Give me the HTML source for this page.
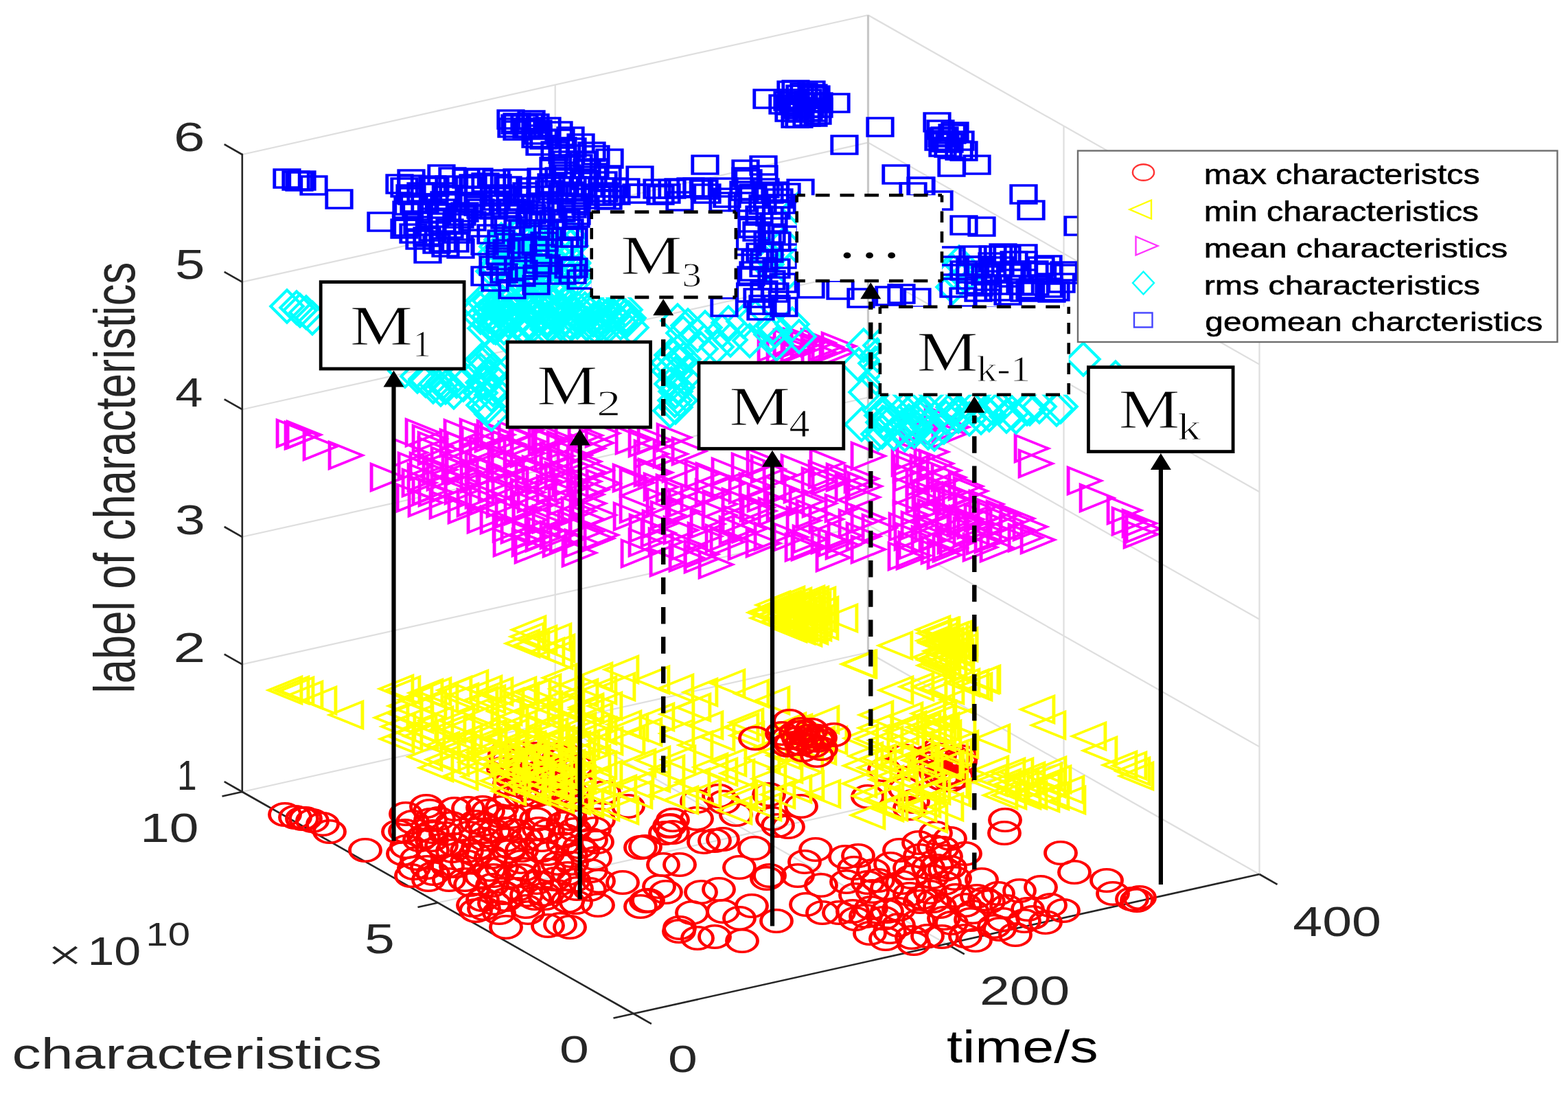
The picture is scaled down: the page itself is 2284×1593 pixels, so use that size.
<!DOCTYPE html>
<html><head><meta charset="utf-8"><title>figure</title>
<style>html,body{margin:0;padding:0;background:#fff;} svg{display:block;}</style></head>
<body>
<svg xmlns="http://www.w3.org/2000/svg" width="2284" height="1593" viewBox="0 0 2284 1593">
<rect width="100%" height="100%" fill="#fff"/>
<line x1="352.8" y1="1153" x2="1264.5" y2="950" stroke="#dedede" stroke-width="2.2" />
<line x1="352.8" y1="967.4" x2="1264.5" y2="764.4" stroke="#dedede" stroke-width="2.2" />
<line x1="352.8" y1="781.8" x2="1264.5" y2="578.8" stroke="#dedede" stroke-width="2.2" />
<line x1="352.8" y1="596.2" x2="1264.5" y2="393.2" stroke="#dedede" stroke-width="2.2" />
<line x1="352.8" y1="410.6" x2="1264.5" y2="207.6" stroke="#dedede" stroke-width="2.2" />
<line x1="352.8" y1="225" x2="1264.5" y2="22" stroke="#dedede" stroke-width="2.2" />
<line x1="808.7" y1="1051.5" x2="808.7" y2="123.5" stroke="#dedede" stroke-width="2.2" />
<line x1="1264.5" y1="950" x2="1834.5" y2="1273" stroke="#dedede" stroke-width="2.2" />
<line x1="1264.5" y1="764.4" x2="1834.5" y2="1087.4" stroke="#dedede" stroke-width="2.2" />
<line x1="1264.5" y1="578.8" x2="1834.5" y2="901.8" stroke="#dedede" stroke-width="2.2" />
<line x1="1264.5" y1="393.2" x2="1834.5" y2="716.2" stroke="#dedede" stroke-width="2.2" />
<line x1="1264.5" y1="207.6" x2="1834.5" y2="530.6" stroke="#dedede" stroke-width="2.2" />
<line x1="1264.5" y1="22" x2="1834.5" y2="345" stroke="#dedede" stroke-width="2.2" />
<line x1="1549.5" y1="1111.5" x2="1549.5" y2="183.5" stroke="#dedede" stroke-width="2.2" />
<line x1="1834.5" y1="1273" x2="1834.5" y2="345" stroke="#dedede" stroke-width="2.2" />
<line x1="1264.5" y1="950" x2="1264.5" y2="22" stroke="#c8c8c8" stroke-width="3.2" />
<line x1="1378.7" y1="1374.5" x2="808.7" y2="1051.5" stroke="#dedede" stroke-width="2.2" />
<line x1="637.8" y1="1314.5" x2="1549.5" y2="1111.5" stroke="#dedede" stroke-width="2.2" />
<line x1="352.8" y1="1153" x2="352.8" y2="225" stroke="#262626" stroke-width="2.6" stroke-linecap="square"/>
<line x1="352.8" y1="1153" x2="922.8" y2="1476" stroke="#262626" stroke-width="2.6" />
<line x1="922.8" y1="1476" x2="1834.5" y2="1273" stroke="#262626" stroke-width="2.6" />
<line x1="352.8" y1="1153" x2="326.7" y2="1138.2" stroke="#262626" stroke-width="2.6" />
<line x1="352.8" y1="967.4" x2="326.7" y2="952.6" stroke="#262626" stroke-width="2.6" />
<line x1="352.8" y1="781.8" x2="326.7" y2="767" stroke="#262626" stroke-width="2.6" />
<line x1="352.8" y1="596.2" x2="326.7" y2="581.4" stroke="#262626" stroke-width="2.6" />
<line x1="352.8" y1="410.6" x2="326.7" y2="395.8" stroke="#262626" stroke-width="2.6" />
<line x1="352.8" y1="225" x2="326.7" y2="210.2" stroke="#262626" stroke-width="2.6" />
<line x1="922.8" y1="1476" x2="893.5" y2="1482.5" stroke="#262626" stroke-width="2.6" />
<line x1="637.8" y1="1314.5" x2="608.5" y2="1321" stroke="#262626" stroke-width="2.6" />
<line x1="352.8" y1="1153" x2="323.5" y2="1159.5" stroke="#262626" stroke-width="2.6" />
<line x1="922.8" y1="1476" x2="948.9" y2="1490.8" stroke="#262626" stroke-width="2.6" />
<line x1="1378.7" y1="1374.5" x2="1404.8" y2="1389.3" stroke="#262626" stroke-width="2.6" />
<line x1="1834.5" y1="1273" x2="1860.6" y2="1287.8" stroke="#262626" stroke-width="2.6" />
<defs>
<circle id="mo" r="16.2" transform="scale(1.39 1)"/>
<rect id="ms" x="-13.1" y="-13.0" width="26.2" height="26" transform="scale(1.39 1)"/>
<path id="md" d="M-17 0L0 -23.5L17 0L0 23.5Z" transform="scale(1.39 1)"/>
<path id="mr" d="M-17.2 -19.3L17.2 0L-17.2 19.3Z" transform="scale(1.39 1)"/>
<path id="ml" d="M17.2 -19.3L-17.2 0L17.2 19.3Z" transform="scale(1.39 1)"/>
</defs>
<g fill="none" stroke="#ff0000" stroke-width="3.5">
<use href="#mo" x="415" y="1186"/>
<use href="#mo" x="430" y="1190"/>
<use href="#mo" x="440" y="1192"/>
<use href="#mo" x="445" y="1192"/>
<use href="#mo" x="455" y="1195"/>
<use href="#mo" x="470" y="1200"/>
<use href="#mo" x="480" y="1211"/>
<use href="#mo" x="532" y="1238"/>
<use href="#mo" x="591" y="1185"/>
<use href="#mo" x="621" y="1174"/>
<use href="#mo" x="626" y="1181"/>
<use href="#mo" x="662" y="1178"/>
<use href="#mo" x="682" y="1177"/>
<use href="#mo" x="703" y="1176"/>
<use href="#mo" x="711" y="1181"/>
<use href="#mo" x="731" y="1176"/>
<use href="#mo" x="601" y="1197"/>
<use href="#mo" x="627" y="1194"/>
<use href="#mo" x="639" y="1192"/>
<use href="#mo" x="658" y="1199"/>
<use href="#mo" x="693" y="1197"/>
<use href="#mo" x="705" y="1200"/>
<use href="#mo" x="728" y="1188"/>
<use href="#mo" x="745" y="1189"/>
<use href="#mo" x="781" y="1193"/>
<use href="#mo" x="792" y="1187"/>
<use href="#mo" x="820" y="1199"/>
<use href="#mo" x="831" y="1192"/>
<use href="#mo" x="847" y="1194"/>
<use href="#mo" x="872" y="1194"/>
<use href="#mo" x="580" y="1211"/>
<use href="#mo" x="590" y="1210"/>
<use href="#mo" x="617" y="1218"/>
<use href="#mo" x="630" y="1211"/>
<use href="#mo" x="649" y="1214"/>
<use href="#mo" x="683" y="1213"/>
<use href="#mo" x="707" y="1211"/>
<use href="#mo" x="720" y="1210"/>
<use href="#mo" x="735" y="1207"/>
<use href="#mo" x="752" y="1210"/>
<use href="#mo" x="785" y="1207"/>
<use href="#mo" x="798" y="1210"/>
<use href="#mo" x="823" y="1217"/>
<use href="#mo" x="837" y="1208"/>
<use href="#mo" x="866" y="1207"/>
<use href="#mo" x="592" y="1233"/>
<use href="#mo" x="611" y="1223"/>
<use href="#mo" x="629" y="1223"/>
<use href="#mo" x="643" y="1231"/>
<use href="#mo" x="662" y="1230"/>
<use href="#mo" x="696" y="1234"/>
<use href="#mo" x="706" y="1222"/>
<use href="#mo" x="737" y="1223"/>
<use href="#mo" x="744" y="1234"/>
<use href="#mo" x="767" y="1221"/>
<use href="#mo" x="789" y="1223"/>
<use href="#mo" x="820" y="1229"/>
<use href="#mo" x="844" y="1233"/>
<use href="#mo" x="861" y="1223"/>
<use href="#mo" x="870" y="1226"/>
<use href="#mo" x="587" y="1243"/>
<use href="#mo" x="607" y="1250"/>
<use href="#mo" x="630" y="1238"/>
<use href="#mo" x="659" y="1239"/>
<use href="#mo" x="680" y="1239"/>
<use href="#mo" x="692" y="1244"/>
<use href="#mo" x="715" y="1248"/>
<use href="#mo" x="741" y="1240"/>
<use href="#mo" x="760" y="1238"/>
<use href="#mo" x="789" y="1238"/>
<use href="#mo" x="798" y="1243"/>
<use href="#mo" x="832" y="1246"/>
<use href="#mo" x="849" y="1239"/>
<use href="#mo" x="867" y="1250"/>
<use href="#mo" x="603" y="1264"/>
<use href="#mo" x="622" y="1263"/>
<use href="#mo" x="652" y="1261"/>
<use href="#mo" x="664" y="1261"/>
<use href="#mo" x="680" y="1255"/>
<use href="#mo" x="713" y="1266"/>
<use href="#mo" x="731" y="1263"/>
<use href="#mo" x="759" y="1255"/>
<use href="#mo" x="763" y="1266"/>
<use href="#mo" x="800" y="1267"/>
<use href="#mo" x="812" y="1257"/>
<use href="#mo" x="833" y="1257"/>
<use href="#mo" x="861" y="1268"/>
<use href="#mo" x="599" y="1275"/>
<use href="#mo" x="624" y="1281"/>
<use href="#mo" x="631" y="1272"/>
<use href="#mo" x="654" y="1281"/>
<use href="#mo" x="677" y="1281"/>
<use href="#mo" x="701" y="1276"/>
<use href="#mo" x="719" y="1275"/>
<use href="#mo" x="746" y="1276"/>
<use href="#mo" x="760" y="1275"/>
<use href="#mo" x="782" y="1285"/>
<use href="#mo" x="808" y="1280"/>
<use href="#mo" x="827" y="1272"/>
<use href="#mo" x="836" y="1282"/>
<use href="#mo" x="872" y="1283"/>
<use href="#mo" x="685" y="1288"/>
<use href="#mo" x="717" y="1289"/>
<use href="#mo" x="733" y="1300"/>
<use href="#mo" x="754" y="1295"/>
<use href="#mo" x="767" y="1303"/>
<use href="#mo" x="793" y="1302"/>
<use href="#mo" x="811" y="1298"/>
<use href="#mo" x="840" y="1294"/>
<use href="#mo" x="859" y="1295"/>
<use href="#mo" x="703" y="1310"/>
<use href="#mo" x="720" y="1315"/>
<use href="#mo" x="737" y="1310"/>
<use href="#mo" x="766" y="1320"/>
<use href="#mo" x="779" y="1308"/>
<use href="#mo" x="794" y="1308"/>
<use href="#mo" x="827" y="1312"/>
<use href="#mo" x="839" y="1314"/>
<use href="#mo" x="871" y="1318"/>
<use href="#mo" x="705" y="1323"/>
<use href="#mo" x="727" y="1329"/>
<use href="#mo" x="769" y="1329"/>
<use href="#mo" x="880" y="1154"/>
<use href="#mo" x="915" y="1174"/>
<use href="#mo" x="933" y="1234"/>
<use href="#mo" x="975" y="1203"/>
<use href="#mo" x="969" y="1213"/>
<use href="#mo" x="907" y="1285"/>
<use href="#mo" x="933" y="1320"/>
<use href="#mo" x="941" y="1312"/>
<use href="#mo" x="798" y="1348"/>
<use href="#mo" x="816" y="1346"/>
<use href="#mo" x="830" y="1350"/>
<use href="#mo" x="737" y="1350"/>
<use href="#mo" x="689" y="1318"/>
<use href="#mo" x="693" y="1326"/>
<use href="#mo" x="989" y="1356"/>
<use href="#mo" x="976" y="1202"/>
<use href="#mo" x="980" y="1212"/>
<use href="#mo" x="1025" y="1226"/>
<use href="#mo" x="1041" y="1224"/>
<use href="#mo" x="1053" y="1222"/>
<use href="#mo" x="940" y="1233"/>
<use href="#mo" x="990" y="1259"/>
<use href="#mo" x="966" y="1259"/>
<use href="#mo" x="1077" y="1263"/>
<use href="#mo" x="1099" y="1235"/>
<use href="#mo" x="1133" y="1202"/>
<use href="#mo" x="1148" y="1204"/>
<use href="#mo" x="1125" y="1192"/>
<use href="#mo" x="960" y="1291"/>
<use href="#mo" x="970" y="1299"/>
<use href="#mo" x="944" y="1311"/>
<use href="#mo" x="1021" y="1299"/>
<use href="#mo" x="1047" y="1295"/>
<use href="#mo" x="1008" y="1329"/>
<use href="#mo" x="1053" y="1327"/>
<use href="#mo" x="1095" y="1319"/>
<use href="#mo" x="1077" y="1337"/>
<use href="#mo" x="990" y="1351"/>
<use href="#mo" x="1016" y="1366"/>
<use href="#mo" x="1041" y="1364"/>
<use href="#mo" x="1081" y="1370"/>
<use href="#mo" x="1131" y="1341"/>
<use href="#mo" x="1117" y="1279"/>
<use href="#mo" x="1121" y="1275"/>
<use href="#mo" x="1162" y="1275"/>
<use href="#mo" x="1172" y="1255"/>
<use href="#mo" x="1188" y="1237"/>
<use href="#mo" x="1196" y="1289"/>
<use href="#mo" x="1174" y="1317"/>
<use href="#mo" x="1198" y="1329"/>
<use href="#mo" x="1222" y="1329"/>
<use href="#mo" x="1242" y="1327"/>
<use href="#mo" x="1338" y="1227"/>
<use href="#mo" x="1384" y="1221"/>
<use href="#mo" x="1231" y="1248"/>
<use href="#mo" x="1250" y="1246"/>
<use href="#mo" x="1310" y="1238"/>
<use href="#mo" x="1340" y="1246"/>
<use href="#mo" x="1360" y="1233"/>
<use href="#mo" x="1373" y="1235"/>
<use href="#mo" x="1244" y="1264"/>
<use href="#mo" x="1272" y="1268"/>
<use href="#mo" x="1297" y="1258"/>
<use href="#mo" x="1325" y="1264"/>
<use href="#mo" x="1352" y="1263"/>
<use href="#mo" x="1365" y="1261"/>
<use href="#mo" x="1384" y="1263"/>
<use href="#mo" x="1233" y="1284"/>
<use href="#mo" x="1264" y="1285"/>
<use href="#mo" x="1279" y="1282"/>
<use href="#mo" x="1314" y="1285"/>
<use href="#mo" x="1327" y="1277"/>
<use href="#mo" x="1358" y="1277"/>
<use href="#mo" x="1376" y="1286"/>
<use href="#mo" x="1391" y="1279"/>
<use href="#mo" x="1430" y="1281"/>
<use href="#mo" x="1246" y="1303"/>
<use href="#mo" x="1271" y="1298"/>
<use href="#mo" x="1292" y="1293"/>
<use href="#mo" x="1325" y="1302"/>
<use href="#mo" x="1343" y="1307"/>
<use href="#mo" x="1355" y="1299"/>
<use href="#mo" x="1392" y="1304"/>
<use href="#mo" x="1423" y="1305"/>
<use href="#mo" x="1434" y="1309"/>
<use href="#mo" x="1454" y="1301"/>
<use href="#mo" x="1485" y="1297"/>
<use href="#mo" x="1516" y="1292"/>
<use href="#mo" x="1269" y="1322"/>
<use href="#mo" x="1292" y="1327"/>
<use href="#mo" x="1309" y="1324"/>
<use href="#mo" x="1340" y="1313"/>
<use href="#mo" x="1359" y="1312"/>
<use href="#mo" x="1369" y="1320"/>
<use href="#mo" x="1406" y="1318"/>
<use href="#mo" x="1417" y="1328"/>
<use href="#mo" x="1440" y="1313"/>
<use href="#mo" x="1466" y="1320"/>
<use href="#mo" x="1497" y="1324"/>
<use href="#mo" x="1530" y="1318"/>
<use href="#mo" x="1549" y="1326"/>
<use href="#mo" x="1246" y="1338"/>
<use href="#mo" x="1261" y="1334"/>
<use href="#mo" x="1287" y="1337"/>
<use href="#mo" x="1309" y="1347"/>
<use href="#mo" x="1338" y="1341"/>
<use href="#mo" x="1375" y="1337"/>
<use href="#mo" x="1386" y="1344"/>
<use href="#mo" x="1414" y="1339"/>
<use href="#mo" x="1448" y="1349"/>
<use href="#mo" x="1461" y="1339"/>
<use href="#mo" x="1492" y="1341"/>
<use href="#mo" x="1504" y="1336"/>
<use href="#mo" x="1523" y="1343"/>
<use href="#mo" x="1267" y="1359"/>
<use href="#mo" x="1290" y="1367"/>
<use href="#mo" x="1296" y="1357"/>
<use href="#mo" x="1328" y="1365"/>
<use href="#mo" x="1351" y="1363"/>
<use href="#mo" x="1372" y="1364"/>
<use href="#mo" x="1406" y="1363"/>
<use href="#mo" x="1421" y="1369"/>
<use href="#mo" x="1456" y="1353"/>
<use href="#mo" x="1479" y="1361"/>
<use href="#mo" x="1331" y="1374"/>
<use href="#mo" x="1464" y="1194"/>
<use href="#mo" x="1463" y="1213"/>
<use href="#mo" x="1545" y="1242"/>
<use href="#mo" x="1565" y="1270"/>
<use href="#mo" x="1612" y="1282"/>
<use href="#mo" x="1621" y="1301"/>
<use href="#mo" x="1649" y="1309"/>
<use href="#mo" x="1656" y="1311"/>
<use href="#mo" x="1660" y="1307"/>
<use href="#mo" x="1363" y="1213"/>
<use href="#mo" x="1378" y="1247"/>
<use href="#mo" x="1406" y="1243"/>
<use href="#mo" x="1376" y="1266"/>
<use href="#mo" x="735" y="1098"/>
<use href="#mo" x="761" y="1098"/>
<use href="#mo" x="781" y="1098"/>
<use href="#mo" x="799" y="1101"/>
<use href="#mo" x="808" y="1098"/>
<use href="#mo" x="823" y="1099"/>
<use href="#mo" x="739" y="1108"/>
<use href="#mo" x="761" y="1105"/>
<use href="#mo" x="774" y="1105"/>
<use href="#mo" x="788" y="1108"/>
<use href="#mo" x="812" y="1107"/>
<use href="#mo" x="819" y="1106"/>
<use href="#mo" x="829" y="1113"/>
<use href="#mo" x="733" y="1119"/>
<use href="#mo" x="753" y="1125"/>
<use href="#mo" x="764" y="1120"/>
<use href="#mo" x="785" y="1125"/>
<use href="#mo" x="799" y="1119"/>
<use href="#mo" x="815" y="1120"/>
<use href="#mo" x="826" y="1123"/>
<use href="#mo" x="840" y="1116"/>
<use href="#mo" x="742" y="1130"/>
<use href="#mo" x="765" y="1136"/>
<use href="#mo" x="771" y="1135"/>
<use href="#mo" x="788" y="1131"/>
<use href="#mo" x="812" y="1131"/>
<use href="#mo" x="816" y="1134"/>
<use href="#mo" x="829" y="1130"/>
<use href="#mo" x="742" y="1141"/>
<use href="#mo" x="755" y="1143"/>
<use href="#mo" x="768" y="1148"/>
<use href="#mo" x="786" y="1148"/>
<use href="#mo" x="803" y="1146"/>
<use href="#mo" x="813" y="1148"/>
<use href="#mo" x="828" y="1145"/>
<use href="#mo" x="842" y="1143"/>
<use href="#mo" x="743" y="1161"/>
<use href="#mo" x="759" y="1158"/>
<use href="#mo" x="781" y="1158"/>
<use href="#mo" x="791" y="1153"/>
<use href="#mo" x="812" y="1154"/>
<use href="#mo" x="826" y="1155"/>
<use href="#mo" x="837" y="1159"/>
<use href="#mo" x="831" y="1165"/>
<use href="#mo" x="1367" y="1091"/>
<use href="#mo" x="1350" y="1103"/>
<use href="#mo" x="1364" y="1099"/>
<use href="#mo" x="1369" y="1100"/>
<use href="#mo" x="1389" y="1103"/>
<use href="#mo" x="1400" y="1102"/>
<use href="#mo" x="1352" y="1112"/>
<use href="#mo" x="1363" y="1116"/>
<use href="#mo" x="1381" y="1109"/>
<use href="#mo" x="1399" y="1109"/>
<use href="#mo" x="1363" y="1125"/>
<use href="#mo" x="1376" y="1128"/>
<use href="#mo" x="1384" y="1125"/>
<use href="#mo" x="1372" y="1134"/>
<use href="#mo" x="1384" y="1136"/>
<use href="#mo" x="1394" y="1131"/>
<use href="#mo" x="1288" y="1121"/>
<use href="#mo" x="1264" y="1160"/>
<use href="#mo" x="1318" y="1101"/>
<use href="#mo" x="1330" y="1167"/>
<use href="#mo" x="1318" y="1149"/>
<use href="#mo" x="1325" y="1177"/>
<use href="#mo" x="1072" y="1186"/>
<use href="#mo" x="1054" y="1168"/>
<use href="#mo" x="1047" y="1159"/>
<use href="#mo" x="1167" y="1174"/>
<use href="#mo" x="980" y="1194"/>
<use href="#mo" x="1015" y="1167"/>
<use href="#mo" x="1015" y="1192"/>
<use href="#mo" x="1120" y="1157"/>
</g>
<g fill="none" stroke="#ffff00" stroke-width="3.5">
<use href="#ml" x="415" y="1005"/>
<use href="#ml" x="425" y="1005"/>
<use href="#ml" x="432" y="1006"/>
<use href="#ml" x="445" y="1012"/>
<use href="#ml" x="465" y="1020"/>
<use href="#ml" x="504" y="1041"/>
<use href="#ml" x="770" y="917"/>
<use href="#ml" x="761" y="937"/>
<use href="#ml" x="768" y="927"/>
<use href="#ml" x="786" y="931"/>
<use href="#ml" x="807" y="928"/>
<use href="#ml" x="775" y="939"/>
<use href="#ml" x="797" y="949"/>
<use href="#ml" x="812" y="944"/>
<use href="#ml" x="809" y="954"/>
<use href="#ml" x="815" y="987"/>
<use href="#ml" x="867" y="985"/>
<use href="#ml" x="577" y="1003"/>
<use href="#ml" x="587" y="1005"/>
<use href="#ml" x="620" y="1009"/>
<use href="#ml" x="632" y="1007"/>
<use href="#ml" x="662" y="1005"/>
<use href="#ml" x="686" y="996"/>
<use href="#ml" x="706" y="1004"/>
<use href="#ml" x="722" y="1007"/>
<use href="#ml" x="756" y="1006"/>
<use href="#ml" x="777" y="1009"/>
<use href="#ml" x="792" y="1002"/>
<use href="#ml" x="825" y="1003"/>
<use href="#ml" x="846" y="1009"/>
<use href="#ml" x="873" y="1005"/>
<use href="#ml" x="590" y="1028"/>
<use href="#ml" x="605" y="1019"/>
<use href="#ml" x="625" y="1026"/>
<use href="#ml" x="642" y="1017"/>
<use href="#ml" x="672" y="1015"/>
<use href="#ml" x="700" y="1020"/>
<use href="#ml" x="711" y="1018"/>
<use href="#ml" x="738" y="1022"/>
<use href="#ml" x="760" y="1014"/>
<use href="#ml" x="794" y="1027"/>
<use href="#ml" x="815" y="1028"/>
<use href="#ml" x="826" y="1029"/>
<use href="#ml" x="854" y="1030"/>
<use href="#ml" x="881" y="1028"/>
<use href="#ml" x="570" y="1045"/>
<use href="#ml" x="590" y="1039"/>
<use href="#ml" x="606" y="1047"/>
<use href="#ml" x="635" y="1049"/>
<use href="#ml" x="666" y="1050"/>
<use href="#ml" x="693" y="1036"/>
<use href="#ml" x="701" y="1044"/>
<use href="#ml" x="735" y="1036"/>
<use href="#ml" x="744" y="1047"/>
<use href="#ml" x="775" y="1037"/>
<use href="#ml" x="791" y="1041"/>
<use href="#ml" x="826" y="1049"/>
<use href="#ml" x="854" y="1033"/>
<use href="#ml" x="867" y="1044"/>
<use href="#ml" x="580" y="1058"/>
<use href="#ml" x="611" y="1061"/>
<use href="#ml" x="623" y="1065"/>
<use href="#ml" x="653" y="1062"/>
<use href="#ml" x="666" y="1063"/>
<use href="#ml" x="703" y="1066"/>
<use href="#ml" x="713" y="1068"/>
<use href="#ml" x="745" y="1067"/>
<use href="#ml" x="757" y="1055"/>
<use href="#ml" x="795" y="1058"/>
<use href="#ml" x="802" y="1066"/>
<use href="#ml" x="843" y="1058"/>
<use href="#ml" x="864" y="1060"/>
<use href="#ml" x="873" y="1064"/>
<use href="#ml" x="578" y="1076"/>
<use href="#ml" x="590" y="1072"/>
<use href="#ml" x="613" y="1072"/>
<use href="#ml" x="644" y="1086"/>
<use href="#ml" x="664" y="1085"/>
<use href="#ml" x="677" y="1076"/>
<use href="#ml" x="706" y="1079"/>
<use href="#ml" x="732" y="1073"/>
<use href="#ml" x="763" y="1075"/>
<use href="#ml" x="770" y="1085"/>
<use href="#ml" x="805" y="1076"/>
<use href="#ml" x="819" y="1086"/>
<use href="#ml" x="848" y="1083"/>
<use href="#ml" x="860" y="1079"/>
<use href="#ml" x="882" y="1079"/>
<use href="#ml" x="619" y="1102"/>
<use href="#ml" x="645" y="1106"/>
<use href="#ml" x="668" y="1090"/>
<use href="#ml" x="705" y="1096"/>
<use href="#ml" x="713" y="1099"/>
<use href="#ml" x="743" y="1090"/>
<use href="#ml" x="775" y="1097"/>
<use href="#ml" x="793" y="1097"/>
<use href="#ml" x="808" y="1090"/>
<use href="#ml" x="842" y="1099"/>
<use href="#ml" x="864" y="1105"/>
<use href="#ml" x="635" y="1118"/>
<use href="#ml" x="658" y="1110"/>
<use href="#ml" x="693" y="1110"/>
<use href="#ml" x="716" y="1109"/>
<use href="#ml" x="731" y="1112"/>
<use href="#ml" x="743" y="1118"/>
<use href="#ml" x="782" y="1125"/>
<use href="#ml" x="809" y="1111"/>
<use href="#ml" x="827" y="1112"/>
<use href="#ml" x="840" y="1112"/>
<use href="#ml" x="873" y="1114"/>
<use href="#ml" x="671" y="1130"/>
<use href="#ml" x="697" y="1131"/>
<use href="#ml" x="725" y="1137"/>
<use href="#ml" x="747" y="1136"/>
<use href="#ml" x="767" y="1139"/>
<use href="#ml" x="778" y="1133"/>
<use href="#ml" x="801" y="1144"/>
<use href="#ml" x="843" y="1135"/>
<use href="#ml" x="865" y="1137"/>
<use href="#ml" x="881" y="1128"/>
<use href="#ml" x="777" y="1153"/>
<use href="#ml" x="808" y="1158"/>
<use href="#ml" x="824" y="1148"/>
<use href="#ml" x="839" y="1156"/>
<use href="#ml" x="871" y="1154"/>
<use href="#ml" x="854" y="1170"/>
<use href="#ml" x="877" y="1175"/>
<use href="#ml" x="729" y="1077"/>
<use href="#ml" x="761" y="1080"/>
<use href="#ml" x="791" y="1082"/>
<use href="#ml" x="812" y="1077"/>
<use href="#ml" x="835" y="1085"/>
<use href="#ml" x="728" y="1105"/>
<use href="#ml" x="755" y="1108"/>
<use href="#ml" x="772" y="1103"/>
<use href="#ml" x="795" y="1103"/>
<use href="#ml" x="822" y="1108"/>
<use href="#ml" x="739" y="1122"/>
<use href="#ml" x="759" y="1118"/>
<use href="#ml" x="798" y="1130"/>
<use href="#ml" x="816" y="1128"/>
<use href="#ml" x="741" y="1152"/>
<use href="#ml" x="771" y="1147"/>
<use href="#ml" x="809" y="1147"/>
<use href="#ml" x="825" y="1137"/>
<use href="#ml" x="811" y="1164"/>
<use href="#ml" x="835" y="1166"/>
<use href="#ml" x="905" y="975"/>
<use href="#ml" x="900" y="1000"/>
<use href="#ml" x="950" y="990"/>
<use href="#ml" x="985" y="1002"/>
<use href="#ml" x="1020" y="1008"/>
<use href="#ml" x="1060" y="995"/>
<use href="#ml" x="1095" y="1010"/>
<use href="#ml" x="1125" y="1020"/>
<use href="#ml" x="1010" y="1030"/>
<use href="#ml" x="1250" y="967"/>
<use href="#ml" x="1305" y="1005"/>
<use href="#ml" x="1335" y="1000"/>
<use href="#ml" x="1420" y="1000"/>
<use href="#ml" x="1430" y="990"/>
<use href="#ml" x="909" y="1055"/>
<use href="#ml" x="919" y="1059"/>
<use href="#ml" x="957" y="1044"/>
<use href="#ml" x="986" y="1040"/>
<use href="#ml" x="1028" y="1056"/>
<use href="#ml" x="1080" y="1059"/>
<use href="#ml" x="1087" y="1052"/>
<use href="#ml" x="1149" y="1058"/>
<use href="#ml" x="1158" y="1060"/>
<use href="#ml" x="1197" y="1048"/>
<use href="#ml" x="914" y="1078"/>
<use href="#ml" x="939" y="1066"/>
<use href="#ml" x="986" y="1068"/>
<use href="#ml" x="1013" y="1085"/>
<use href="#ml" x="1045" y="1073"/>
<use href="#ml" x="1088" y="1071"/>
<use href="#ml" x="1122" y="1089"/>
<use href="#ml" x="1157" y="1069"/>
<use href="#ml" x="1191" y="1078"/>
<use href="#ml" x="1209" y="1078"/>
<use href="#ml" x="930" y="1111"/>
<use href="#ml" x="951" y="1107"/>
<use href="#ml" x="988" y="1106"/>
<use href="#ml" x="1035" y="1117"/>
<use href="#ml" x="1062" y="1110"/>
<use href="#ml" x="1111" y="1104"/>
<use href="#ml" x="1142" y="1100"/>
<use href="#ml" x="1174" y="1106"/>
<use href="#ml" x="1193" y="1093"/>
<use href="#ml" x="927" y="1143"/>
<use href="#ml" x="951" y="1133"/>
<use href="#ml" x="972" y="1120"/>
<use href="#ml" x="1009" y="1139"/>
<use href="#ml" x="1049" y="1124"/>
<use href="#ml" x="1074" y="1126"/>
<use href="#ml" x="1120" y="1134"/>
<use href="#ml" x="1144" y="1120"/>
<use href="#ml" x="1175" y="1143"/>
<use href="#ml" x="902" y="1149"/>
<use href="#ml" x="925" y="1157"/>
<use href="#ml" x="972" y="1157"/>
<use href="#ml" x="992" y="1165"/>
<use href="#ml" x="1025" y="1155"/>
<use href="#ml" x="1078" y="1158"/>
<use href="#ml" x="1089" y="1160"/>
<use href="#ml" x="1133" y="1157"/>
<use href="#ml" x="1157" y="1149"/>
<use href="#ml" x="1199" y="1156"/>
<use href="#ml" x="905" y="1180"/>
<use href="#ml" x="1070" y="1180"/>
<use href="#ml" x="1113" y="1175"/>
<use href="#ml" x="1276" y="1041"/>
<use href="#ml" x="1319" y="1043"/>
<use href="#ml" x="1366" y="1047"/>
<use href="#ml" x="1396" y="1050"/>
<use href="#ml" x="1275" y="1060"/>
<use href="#ml" x="1313" y="1064"/>
<use href="#ml" x="1324" y="1056"/>
<use href="#ml" x="1362" y="1061"/>
<use href="#ml" x="1375" y="1069"/>
<use href="#ml" x="1254" y="1075"/>
<use href="#ml" x="1270" y="1076"/>
<use href="#ml" x="1290" y="1078"/>
<use href="#ml" x="1321" y="1077"/>
<use href="#ml" x="1334" y="1085"/>
<use href="#ml" x="1367" y="1074"/>
<use href="#ml" x="1400" y="1084"/>
<use href="#ml" x="1261" y="1101"/>
<use href="#ml" x="1280" y="1104"/>
<use href="#ml" x="1305" y="1104"/>
<use href="#ml" x="1339" y="1107"/>
<use href="#ml" x="1343" y="1101"/>
<use href="#ml" x="1385" y="1098"/>
<use href="#ml" x="1391" y="1096"/>
<use href="#ml" x="1253" y="1115"/>
<use href="#ml" x="1274" y="1118"/>
<use href="#ml" x="1300" y="1117"/>
<use href="#ml" x="1308" y="1113"/>
<use href="#ml" x="1348" y="1115"/>
<use href="#ml" x="1375" y="1115"/>
<use href="#ml" x="1379" y="1113"/>
<use href="#ml" x="1252" y="1141"/>
<use href="#ml" x="1291" y="1135"/>
<use href="#ml" x="1312" y="1141"/>
<use href="#ml" x="1320" y="1134"/>
<use href="#ml" x="1351" y="1144"/>
<use href="#ml" x="1385" y="1142"/>
<use href="#ml" x="1266" y="1159"/>
<use href="#ml" x="1286" y="1163"/>
<use href="#ml" x="1319" y="1164"/>
<use href="#ml" x="1352" y="1152"/>
<use href="#ml" x="1359" y="1151"/>
<use href="#ml" x="1389" y="1154"/>
<use href="#ml" x="1291" y="1176"/>
<use href="#ml" x="1297" y="1175"/>
<use href="#ml" x="1339" y="1176"/>
<use href="#ml" x="1345" y="1170"/>
<use href="#ml" x="1378" y="1175"/>
<use href="#ml" x="1264" y="1187"/>
<use href="#ml" x="1355" y="1192"/>
<use href="#ml" x="1147" y="874"/>
<use href="#ml" x="1157" y="876"/>
<use href="#ml" x="1176" y="873"/>
<use href="#ml" x="1182" y="874"/>
<use href="#ml" x="1192" y="875"/>
<use href="#ml" x="1126" y="881"/>
<use href="#ml" x="1142" y="880"/>
<use href="#ml" x="1147" y="883"/>
<use href="#ml" x="1162" y="884"/>
<use href="#ml" x="1170" y="882"/>
<use href="#ml" x="1177" y="880"/>
<use href="#ml" x="1185" y="882"/>
<use href="#ml" x="1114" y="892"/>
<use href="#ml" x="1121" y="892"/>
<use href="#ml" x="1135" y="889"/>
<use href="#ml" x="1148" y="887"/>
<use href="#ml" x="1156" y="886"/>
<use href="#ml" x="1165" y="891"/>
<use href="#ml" x="1173" y="888"/>
<use href="#ml" x="1182" y="889"/>
<use href="#ml" x="1196" y="889"/>
<use href="#ml" x="1118" y="900"/>
<use href="#ml" x="1127" y="897"/>
<use href="#ml" x="1139" y="897"/>
<use href="#ml" x="1150" y="900"/>
<use href="#ml" x="1160" y="900"/>
<use href="#ml" x="1165" y="899"/>
<use href="#ml" x="1176" y="898"/>
<use href="#ml" x="1192" y="900"/>
<use href="#ml" x="1134" y="905"/>
<use href="#ml" x="1144" y="908"/>
<use href="#ml" x="1150" y="903"/>
<use href="#ml" x="1160" y="905"/>
<use href="#ml" x="1171" y="902"/>
<use href="#ml" x="1187" y="903"/>
<use href="#ml" x="1150" y="915"/>
<use href="#ml" x="1162" y="915"/>
<use href="#ml" x="1166" y="914"/>
<use href="#ml" x="1177" y="914"/>
<use href="#ml" x="1186" y="913"/>
<use href="#ml" x="1196" y="911"/>
<use href="#ml" x="1162" y="918"/>
<use href="#ml" x="1172" y="921"/>
<use href="#ml" x="1181" y="918"/>
<use href="#ml" x="1224" y="900"/>
<use href="#ml" x="1118" y="890"/>
<use href="#ml" x="1304" y="940"/>
<use href="#ml" x="1252" y="967"/>
<use href="#ml" x="1359" y="917"/>
<use href="#ml" x="1371" y="919"/>
<use href="#ml" x="1373" y="919"/>
<use href="#ml" x="1361" y="922"/>
<use href="#ml" x="1371" y="927"/>
<use href="#ml" x="1385" y="926"/>
<use href="#ml" x="1391" y="924"/>
<use href="#ml" x="1360" y="933"/>
<use href="#ml" x="1363" y="936"/>
<use href="#ml" x="1378" y="934"/>
<use href="#ml" x="1391" y="931"/>
<use href="#ml" x="1399" y="934"/>
<use href="#ml" x="1366" y="937"/>
<use href="#ml" x="1368" y="938"/>
<use href="#ml" x="1379" y="937"/>
<use href="#ml" x="1388" y="940"/>
<use href="#ml" x="1399" y="943"/>
<use href="#ml" x="1370" y="948"/>
<use href="#ml" x="1373" y="951"/>
<use href="#ml" x="1391" y="947"/>
<use href="#ml" x="1393" y="951"/>
<use href="#ml" x="1355" y="957"/>
<use href="#ml" x="1366" y="958"/>
<use href="#ml" x="1371" y="956"/>
<use href="#ml" x="1382" y="955"/>
<use href="#ml" x="1392" y="958"/>
<use href="#ml" x="1361" y="961"/>
<use href="#ml" x="1367" y="967"/>
<use href="#ml" x="1374" y="964"/>
<use href="#ml" x="1383" y="967"/>
<use href="#ml" x="1361" y="969"/>
<use href="#ml" x="1394" y="971"/>
<use href="#ml" x="1415" y="995"/>
<use href="#ml" x="1432" y="989"/>
<use href="#ml" x="1511" y="1033"/>
<use href="#ml" x="1527" y="1056"/>
<use href="#ml" x="1586" y="1072"/>
<use href="#ml" x="1602" y="1093"/>
<use href="#ml" x="1631" y="1114"/>
<use href="#ml" x="1650" y="1123"/>
<use href="#ml" x="1645" y="1115"/>
<use href="#ml" x="1655" y="1130"/>
<use href="#ml" x="1444" y="1121"/>
<use href="#ml" x="1528" y="1122"/>
<use href="#ml" x="1443" y="1133"/>
<use href="#ml" x="1468" y="1124"/>
<use href="#ml" x="1480" y="1124"/>
<use href="#ml" x="1497" y="1130"/>
<use href="#ml" x="1522" y="1131"/>
<use href="#ml" x="1535" y="1135"/>
<use href="#ml" x="1442" y="1139"/>
<use href="#ml" x="1462" y="1140"/>
<use href="#ml" x="1474" y="1142"/>
<use href="#ml" x="1488" y="1140"/>
<use href="#ml" x="1519" y="1146"/>
<use href="#ml" x="1527" y="1141"/>
<use href="#ml" x="1554" y="1150"/>
<use href="#ml" x="1457" y="1158"/>
<use href="#ml" x="1470" y="1158"/>
<use href="#ml" x="1491" y="1158"/>
<use href="#ml" x="1500" y="1158"/>
<use href="#ml" x="1518" y="1162"/>
<use href="#ml" x="1532" y="1159"/>
<use href="#ml" x="1556" y="1165"/>
<use href="#ml" x="1379" y="1005"/>
<use href="#ml" x="1394" y="1019"/>
<use href="#ml" x="1368" y="1040"/>
<use href="#ml" x="1365" y="1002"/>
<use href="#ml" x="1402" y="994"/>
<use href="#ml" x="1353" y="1062"/>
<use href="#ml" x="1354" y="1000"/>
<use href="#ml" x="1352" y="1039"/>
<use href="#ml" x="1345" y="1059"/>
<use href="#ml" x="1372" y="1058"/>
<use href="#ml" x="1446" y="1075"/>
</g>
<g fill="none" stroke="#ff0000" stroke-width="3.5">
<use href="#mo" x="1167" y="1062"/>
<use href="#mo" x="1182" y="1063"/>
<use href="#mo" x="1139" y="1068"/>
<use href="#mo" x="1159" y="1067"/>
<use href="#mo" x="1168" y="1066"/>
<use href="#mo" x="1178" y="1072"/>
<use href="#mo" x="1191" y="1072"/>
<use href="#mo" x="1147" y="1075"/>
<use href="#mo" x="1163" y="1075"/>
<use href="#mo" x="1174" y="1079"/>
<use href="#mo" x="1191" y="1078"/>
<use href="#mo" x="1195" y="1074"/>
<use href="#mo" x="1147" y="1085"/>
<use href="#mo" x="1152" y="1083"/>
<use href="#mo" x="1167" y="1083"/>
<use href="#mo" x="1185" y="1086"/>
<use href="#mo" x="1196" y="1090"/>
<use href="#mo" x="1170" y="1092"/>
<use href="#mo" x="1100" y="1075"/>
<use href="#mo" x="1215" y="1070"/>
<use href="#mo" x="1190" y="1100"/>
<use href="#mo" x="1150" y="1050"/>
</g>
<g fill="none" stroke="#ff00ff" stroke-width="3.5">
<use href="#mr" x="428" y="631"/>
<use href="#mr" x="440" y="634"/>
<use href="#mr" x="443" y="633"/>
<use href="#mr" x="467" y="650"/>
<use href="#mr" x="504" y="663"/>
<use href="#mr" x="565" y="695"/>
<use href="#mr" x="616" y="630"/>
<use href="#mr" x="672" y="631"/>
<use href="#mr" x="695" y="630"/>
<use href="#mr" x="720" y="632"/>
<use href="#mr" x="725" y="633"/>
<use href="#mr" x="751" y="634"/>
<use href="#mr" x="767" y="626"/>
<use href="#mr" x="804" y="636"/>
<use href="#mr" x="834" y="625"/>
<use href="#mr" x="853" y="634"/>
<use href="#mr" x="878" y="631"/>
<use href="#mr" x="626" y="639"/>
<use href="#mr" x="634" y="649"/>
<use href="#mr" x="666" y="645"/>
<use href="#mr" x="675" y="649"/>
<use href="#mr" x="697" y="641"/>
<use href="#mr" x="717" y="638"/>
<use href="#mr" x="741" y="647"/>
<use href="#mr" x="770" y="643"/>
<use href="#mr" x="795" y="642"/>
<use href="#mr" x="800" y="643"/>
<use href="#mr" x="822" y="648"/>
<use href="#mr" x="857" y="653"/>
<use href="#mr" x="869" y="645"/>
<use href="#mr" x="598" y="659"/>
<use href="#mr" x="634" y="657"/>
<use href="#mr" x="653" y="671"/>
<use href="#mr" x="674" y="667"/>
<use href="#mr" x="695" y="657"/>
<use href="#mr" x="709" y="656"/>
<use href="#mr" x="736" y="671"/>
<use href="#mr" x="759" y="658"/>
<use href="#mr" x="769" y="660"/>
<use href="#mr" x="804" y="665"/>
<use href="#mr" x="812" y="664"/>
<use href="#mr" x="837" y="663"/>
<use href="#mr" x="851" y="672"/>
<use href="#mr" x="605" y="679"/>
<use href="#mr" x="622" y="679"/>
<use href="#mr" x="641" y="684"/>
<use href="#mr" x="669" y="683"/>
<use href="#mr" x="675" y="686"/>
<use href="#mr" x="703" y="679"/>
<use href="#mr" x="719" y="687"/>
<use href="#mr" x="741" y="681"/>
<use href="#mr" x="760" y="677"/>
<use href="#mr" x="786" y="684"/>
<use href="#mr" x="812" y="685"/>
<use href="#mr" x="826" y="675"/>
<use href="#mr" x="856" y="687"/>
<use href="#mr" x="869" y="685"/>
<use href="#mr" x="611" y="703"/>
<use href="#mr" x="619" y="695"/>
<use href="#mr" x="647" y="694"/>
<use href="#mr" x="673" y="703"/>
<use href="#mr" x="696" y="697"/>
<use href="#mr" x="706" y="693"/>
<use href="#mr" x="734" y="697"/>
<use href="#mr" x="761" y="706"/>
<use href="#mr" x="776" y="694"/>
<use href="#mr" x="792" y="700"/>
<use href="#mr" x="819" y="693"/>
<use href="#mr" x="830" y="702"/>
<use href="#mr" x="851" y="701"/>
<use href="#mr" x="879" y="704"/>
<use href="#mr" x="603" y="725"/>
<use href="#mr" x="626" y="715"/>
<use href="#mr" x="635" y="717"/>
<use href="#mr" x="653" y="711"/>
<use href="#mr" x="673" y="714"/>
<use href="#mr" x="703" y="720"/>
<use href="#mr" x="722" y="711"/>
<use href="#mr" x="742" y="715"/>
<use href="#mr" x="769" y="717"/>
<use href="#mr" x="779" y="726"/>
<use href="#mr" x="807" y="712"/>
<use href="#mr" x="833" y="710"/>
<use href="#mr" x="855" y="720"/>
<use href="#mr" x="862" y="713"/>
<use href="#mr" x="620" y="732"/>
<use href="#mr" x="651" y="735"/>
<use href="#mr" x="678" y="742"/>
<use href="#mr" x="691" y="732"/>
<use href="#mr" x="709" y="729"/>
<use href="#mr" x="734" y="733"/>
<use href="#mr" x="760" y="744"/>
<use href="#mr" x="772" y="735"/>
<use href="#mr" x="791" y="732"/>
<use href="#mr" x="824" y="730"/>
<use href="#mr" x="843" y="744"/>
<use href="#mr" x="858" y="733"/>
<use href="#mr" x="706" y="756"/>
<use href="#mr" x="725" y="757"/>
<use href="#mr" x="747" y="747"/>
<use href="#mr" x="772" y="757"/>
<use href="#mr" x="790" y="759"/>
<use href="#mr" x="801" y="756"/>
<use href="#mr" x="822" y="751"/>
<use href="#mr" x="855" y="756"/>
<use href="#mr" x="873" y="750"/>
<use href="#mr" x="743" y="769"/>
<use href="#mr" x="755" y="771"/>
<use href="#mr" x="772" y="780"/>
<use href="#mr" x="794" y="774"/>
<use href="#mr" x="812" y="779"/>
<use href="#mr" x="838" y="764"/>
<use href="#mr" x="854" y="774"/>
<use href="#mr" x="876" y="779"/>
<use href="#mr" x="744" y="790"/>
<use href="#mr" x="771" y="790"/>
<use href="#mr" x="791" y="783"/>
<use href="#mr" x="816" y="791"/>
<use href="#mr" x="826" y="784"/>
<use href="#mr" x="848" y="791"/>
<use href="#mr" x="870" y="784"/>
<use href="#mr" x="775" y="800"/>
<use href="#mr" x="844" y="805"/>
<use href="#mr" x="922" y="641"/>
<use href="#mr" x="941" y="645"/>
<use href="#mr" x="954" y="641"/>
<use href="#mr" x="982" y="637"/>
<use href="#mr" x="949" y="661"/>
<use href="#mr" x="977" y="661"/>
<use href="#mr" x="1004" y="657"/>
<use href="#mr" x="1113" y="673"/>
<use href="#mr" x="1205" y="674"/>
<use href="#mr" x="1265" y="664"/>
<use href="#mr" x="918" y="696"/>
<use href="#mr" x="949" y="688"/>
<use href="#mr" x="955" y="688"/>
<use href="#mr" x="990" y="682"/>
<use href="#mr" x="1023" y="690"/>
<use href="#mr" x="1039" y="694"/>
<use href="#mr" x="1062" y="687"/>
<use href="#mr" x="1091" y="680"/>
<use href="#mr" x="1119" y="683"/>
<use href="#mr" x="1137" y="692"/>
<use href="#mr" x="1163" y="682"/>
<use href="#mr" x="1203" y="691"/>
<use href="#mr" x="1229" y="695"/>
<use href="#mr" x="1255" y="697"/>
<use href="#mr" x="928" y="703"/>
<use href="#mr" x="963" y="709"/>
<use href="#mr" x="981" y="711"/>
<use href="#mr" x="994" y="716"/>
<use href="#mr" x="1038" y="718"/>
<use href="#mr" x="1061" y="704"/>
<use href="#mr" x="1087" y="713"/>
<use href="#mr" x="1102" y="709"/>
<use href="#mr" x="1138" y="713"/>
<use href="#mr" x="1167" y="712"/>
<use href="#mr" x="1193" y="701"/>
<use href="#mr" x="1208" y="700"/>
<use href="#mr" x="1242" y="710"/>
<use href="#mr" x="1260" y="708"/>
<use href="#mr" x="928" y="741"/>
<use href="#mr" x="967" y="731"/>
<use href="#mr" x="999" y="732"/>
<use href="#mr" x="1017" y="725"/>
<use href="#mr" x="1049" y="734"/>
<use href="#mr" x="1077" y="731"/>
<use href="#mr" x="1103" y="739"/>
<use href="#mr" x="1114" y="725"/>
<use href="#mr" x="1142" y="737"/>
<use href="#mr" x="1175" y="730"/>
<use href="#mr" x="1194" y="733"/>
<use href="#mr" x="1227" y="740"/>
<use href="#mr" x="1257" y="724"/>
<use href="#mr" x="919" y="752"/>
<use href="#mr" x="961" y="763"/>
<use href="#mr" x="973" y="750"/>
<use href="#mr" x="995" y="745"/>
<use href="#mr" x="1031" y="763"/>
<use href="#mr" x="1048" y="750"/>
<use href="#mr" x="1077" y="756"/>
<use href="#mr" x="1106" y="744"/>
<use href="#mr" x="1130" y="745"/>
<use href="#mr" x="1171" y="758"/>
<use href="#mr" x="1185" y="748"/>
<use href="#mr" x="1204" y="756"/>
<use href="#mr" x="1247" y="762"/>
<use href="#mr" x="1265" y="755"/>
<use href="#mr" x="942" y="769"/>
<use href="#mr" x="959" y="776"/>
<use href="#mr" x="992" y="772"/>
<use href="#mr" x="1027" y="781"/>
<use href="#mr" x="1053" y="784"/>
<use href="#mr" x="1073" y="772"/>
<use href="#mr" x="1092" y="770"/>
<use href="#mr" x="1124" y="781"/>
<use href="#mr" x="1152" y="782"/>
<use href="#mr" x="1180" y="785"/>
<use href="#mr" x="1207" y="786"/>
<use href="#mr" x="1231" y="780"/>
<use href="#mr" x="1258" y="781"/>
<use href="#mr" x="1281" y="769"/>
<use href="#mr" x="930" y="806"/>
<use href="#mr" x="941" y="790"/>
<use href="#mr" x="970" y="789"/>
<use href="#mr" x="1003" y="795"/>
<use href="#mr" x="1022" y="807"/>
<use href="#mr" x="1060" y="789"/>
<use href="#mr" x="1086" y="795"/>
<use href="#mr" x="1112" y="791"/>
<use href="#mr" x="1169" y="797"/>
<use href="#mr" x="1178" y="796"/>
<use href="#mr" x="1217" y="790"/>
<use href="#mr" x="1228" y="794"/>
<use href="#mr" x="1265" y="800"/>
<use href="#mr" x="972" y="819"/>
<use href="#mr" x="1000" y="812"/>
<use href="#mr" x="1022" y="814"/>
<use href="#mr" x="1043" y="822"/>
<use href="#mr" x="1214" y="812"/>
<use href="#mr" x="1357" y="658"/>
<use href="#mr" x="1324" y="673"/>
<use href="#mr" x="1331" y="663"/>
<use href="#mr" x="1364" y="675"/>
<use href="#mr" x="1326" y="682"/>
<use href="#mr" x="1351" y="682"/>
<use href="#mr" x="1375" y="685"/>
<use href="#mr" x="1327" y="695"/>
<use href="#mr" x="1345" y="702"/>
<use href="#mr" x="1361" y="699"/>
<use href="#mr" x="1382" y="695"/>
<use href="#mr" x="1407" y="708"/>
<use href="#mr" x="1326" y="715"/>
<use href="#mr" x="1354" y="720"/>
<use href="#mr" x="1376" y="716"/>
<use href="#mr" x="1398" y="722"/>
<use href="#mr" x="1414" y="715"/>
<use href="#mr" x="1345" y="727"/>
<use href="#mr" x="1356" y="740"/>
<use href="#mr" x="1385" y="728"/>
<use href="#mr" x="1392" y="730"/>
<use href="#mr" x="1416" y="738"/>
<use href="#mr" x="1437" y="734"/>
<use href="#mr" x="1326" y="749"/>
<use href="#mr" x="1357" y="752"/>
<use href="#mr" x="1362" y="747"/>
<use href="#mr" x="1388" y="750"/>
<use href="#mr" x="1408" y="756"/>
<use href="#mr" x="1430" y="754"/>
<use href="#mr" x="1449" y="747"/>
<use href="#mr" x="1462" y="749"/>
<use href="#mr" x="1482" y="755"/>
<use href="#mr" x="1320" y="767"/>
<use href="#mr" x="1338" y="765"/>
<use href="#mr" x="1358" y="768"/>
<use href="#mr" x="1389" y="759"/>
<use href="#mr" x="1405" y="761"/>
<use href="#mr" x="1420" y="764"/>
<use href="#mr" x="1433" y="772"/>
<use href="#mr" x="1467" y="760"/>
<use href="#mr" x="1481" y="771"/>
<use href="#mr" x="1501" y="767"/>
<use href="#mr" x="1328" y="781"/>
<use href="#mr" x="1353" y="786"/>
<use href="#mr" x="1364" y="783"/>
<use href="#mr" x="1391" y="786"/>
<use href="#mr" x="1414" y="774"/>
<use href="#mr" x="1433" y="787"/>
<use href="#mr" x="1445" y="785"/>
<use href="#mr" x="1463" y="778"/>
<use href="#mr" x="1494" y="783"/>
<use href="#mr" x="1512" y="786"/>
<use href="#mr" x="1334" y="794"/>
<use href="#mr" x="1367" y="801"/>
<use href="#mr" x="1384" y="798"/>
<use href="#mr" x="1394" y="790"/>
<use href="#mr" x="1428" y="797"/>
<use href="#mr" x="1453" y="798"/>
<use href="#mr" x="1319" y="810"/>
<use href="#mr" x="1331" y="809"/>
<use href="#mr" x="1376" y="808"/>
<use href="#mr" x="1503" y="653"/>
<use href="#mr" x="1509" y="675"/>
<use href="#mr" x="1580" y="700"/>
<use href="#mr" x="1598" y="725"/>
<use href="#mr" x="1638" y="743"/>
<use href="#mr" x="1645" y="759"/>
<use href="#mr" x="1660" y="762"/>
<use href="#mr" x="1665" y="770"/>
<use href="#mr" x="1662" y="778"/>
<use href="#mr" x="1129" y="506"/>
<use href="#mr" x="1152" y="500"/>
<use href="#mr" x="1166" y="498"/>
<use href="#mr" x="1177" y="499"/>
<use href="#mr" x="1192" y="499"/>
<use href="#mr" x="1203" y="505"/>
<use href="#mr" x="1222" y="504"/>
<use href="#mr" x="1142" y="509"/>
<use href="#mr" x="1152" y="511"/>
<use href="#mr" x="1163" y="509"/>
<use href="#mr" x="1193" y="513"/>
<use href="#mr" x="1208" y="510"/>
<use href="#mr" x="1219" y="513"/>
<use href="#mr" x="1340" y="619"/>
<use href="#mr" x="1372" y="611"/>
<use href="#mr" x="1387" y="622"/>
<use href="#mr" x="1336" y="626"/>
<use href="#mr" x="1383" y="632"/>
</g>
<g fill="none" stroke="#00ffff" stroke-width="3.5">
<use href="#md" x="418" y="446"/>
<use href="#md" x="432" y="448"/>
<use href="#md" x="437" y="452"/>
<use href="#md" x="446" y="455"/>
<use href="#md" x="455" y="463"/>
<use href="#md" x="703" y="438"/>
<use href="#md" x="713" y="438"/>
<use href="#md" x="732" y="440"/>
<use href="#md" x="741" y="442"/>
<use href="#md" x="760" y="444"/>
<use href="#md" x="780" y="438"/>
<use href="#md" x="782" y="438"/>
<use href="#md" x="798" y="438"/>
<use href="#md" x="808" y="443"/>
<use href="#md" x="823" y="441"/>
<use href="#md" x="869" y="441"/>
<use href="#md" x="698" y="449"/>
<use href="#md" x="712" y="451"/>
<use href="#md" x="720" y="447"/>
<use href="#md" x="728" y="450"/>
<use href="#md" x="742" y="451"/>
<use href="#md" x="754" y="450"/>
<use href="#md" x="772" y="451"/>
<use href="#md" x="781" y="446"/>
<use href="#md" x="791" y="449"/>
<use href="#md" x="801" y="451"/>
<use href="#md" x="820" y="452"/>
<use href="#md" x="832" y="453"/>
<use href="#md" x="841" y="449"/>
<use href="#md" x="852" y="450"/>
<use href="#md" x="868" y="449"/>
<use href="#md" x="882" y="452"/>
<use href="#md" x="884" y="450"/>
<use href="#md" x="896" y="448"/>
<use href="#md" x="911" y="451"/>
<use href="#md" x="700" y="462"/>
<use href="#md" x="712" y="461"/>
<use href="#md" x="722" y="461"/>
<use href="#md" x="742" y="459"/>
<use href="#md" x="747" y="456"/>
<use href="#md" x="760" y="459"/>
<use href="#md" x="778" y="456"/>
<use href="#md" x="787" y="460"/>
<use href="#md" x="797" y="464"/>
<use href="#md" x="807" y="460"/>
<use href="#md" x="822" y="464"/>
<use href="#md" x="837" y="458"/>
<use href="#md" x="844" y="462"/>
<use href="#md" x="860" y="457"/>
<use href="#md" x="874" y="463"/>
<use href="#md" x="884" y="461"/>
<use href="#md" x="893" y="460"/>
<use href="#md" x="911" y="460"/>
<use href="#md" x="916" y="463"/>
<use href="#md" x="712" y="471"/>
<use href="#md" x="722" y="468"/>
<use href="#md" x="729" y="469"/>
<use href="#md" x="740" y="467"/>
<use href="#md" x="752" y="470"/>
<use href="#md" x="771" y="472"/>
<use href="#md" x="777" y="473"/>
<use href="#md" x="798" y="468"/>
<use href="#md" x="800" y="473"/>
<use href="#md" x="817" y="471"/>
<use href="#md" x="830" y="469"/>
<use href="#md" x="841" y="469"/>
<use href="#md" x="855" y="471"/>
<use href="#md" x="864" y="466"/>
<use href="#md" x="872" y="467"/>
<use href="#md" x="887" y="474"/>
<use href="#md" x="904" y="470"/>
<use href="#md" x="914" y="466"/>
<use href="#md" x="706" y="478"/>
<use href="#md" x="719" y="476"/>
<use href="#md" x="722" y="477"/>
<use href="#md" x="734" y="477"/>
<use href="#md" x="762" y="476"/>
<use href="#md" x="797" y="479"/>
<use href="#md" x="828" y="476"/>
<use href="#md" x="862" y="479"/>
<use href="#md" x="869" y="478"/>
<use href="#md" x="878" y="476"/>
<use href="#md" x="920" y="477"/>
<use href="#md" x="703" y="523"/>
<use href="#md" x="717" y="516"/>
<use href="#md" x="699" y="527"/>
<use href="#md" x="706" y="526"/>
<use href="#md" x="700" y="539"/>
<use href="#md" x="717" y="539"/>
<use href="#md" x="703" y="557"/>
<use href="#md" x="714" y="548"/>
<use href="#md" x="707" y="558"/>
<use href="#md" x="718" y="567"/>
<use href="#md" x="700" y="572"/>
<use href="#md" x="716" y="575"/>
<use href="#md" x="704" y="590"/>
<use href="#md" x="711" y="592"/>
<use href="#md" x="716" y="603"/>
<use href="#md" x="620" y="554"/>
<use href="#md" x="631" y="563"/>
<use href="#md" x="646" y="556"/>
<use href="#md" x="642" y="567"/>
<use href="#md" x="661" y="571"/>
<use href="#md" x="978" y="517"/>
<use href="#md" x="987" y="513"/>
<use href="#md" x="973" y="528"/>
<use href="#md" x="987" y="526"/>
<use href="#md" x="996" y="523"/>
<use href="#md" x="974" y="540"/>
<use href="#md" x="984" y="544"/>
<use href="#md" x="996" y="551"/>
<use href="#md" x="978" y="559"/>
<use href="#md" x="987" y="564"/>
<use href="#md" x="984" y="570"/>
<use href="#md" x="983" y="583"/>
<use href="#md" x="991" y="583"/>
<use href="#md" x="976" y="598"/>
<use href="#md" x="984" y="593"/>
<use href="#md" x="987" y="467"/>
<use href="#md" x="1002" y="474"/>
<use href="#md" x="1027" y="477"/>
<use href="#md" x="1061" y="470"/>
<use href="#md" x="1083" y="468"/>
<use href="#md" x="1100" y="462"/>
<use href="#md" x="1126" y="475"/>
<use href="#md" x="1154" y="472"/>
<use href="#md" x="995" y="485"/>
<use href="#md" x="1016" y="488"/>
<use href="#md" x="1052" y="482"/>
<use href="#md" x="1064" y="495"/>
<use href="#md" x="1092" y="496"/>
<use href="#md" x="1123" y="487"/>
<use href="#md" x="1129" y="482"/>
<use href="#md" x="1164" y="490"/>
<use href="#md" x="1021" y="508"/>
<use href="#md" x="1044" y="505"/>
<use href="#md" x="1131" y="501"/>
<use href="#md" x="608" y="548"/>
<use href="#md" x="620" y="552"/>
<use href="#md" x="635" y="559"/>
<use href="#md" x="649" y="564"/>
<use href="#md" x="665" y="555"/>
<use href="#md" x="675" y="560"/>
<use href="#md" x="590" y="540"/>
<use href="#md" x="1258" y="503"/>
<use href="#md" x="1282" y="503"/>
<use href="#md" x="1278" y="517"/>
<use href="#md" x="1251" y="531"/>
<use href="#md" x="1275" y="529"/>
<use href="#md" x="1281" y="535"/>
<use href="#md" x="1276" y="550"/>
<use href="#md" x="1261" y="571"/>
<use href="#md" x="1255" y="618"/>
<use href="#md" x="1279" y="632"/>
<use href="#md" x="1286" y="601"/>
<use href="#md" x="1298" y="594"/>
<use href="#md" x="1316" y="597"/>
<use href="#md" x="1328" y="597"/>
<use href="#md" x="1334" y="592"/>
<use href="#md" x="1351" y="599"/>
<use href="#md" x="1376" y="595"/>
<use href="#md" x="1388" y="593"/>
<use href="#md" x="1397" y="599"/>
<use href="#md" x="1417" y="595"/>
<use href="#md" x="1436" y="600"/>
<use href="#md" x="1446" y="594"/>
<use href="#md" x="1456" y="593"/>
<use href="#md" x="1474" y="601"/>
<use href="#md" x="1496" y="595"/>
<use href="#md" x="1500" y="595"/>
<use href="#md" x="1514" y="592"/>
<use href="#md" x="1539" y="596"/>
<use href="#md" x="1545" y="592"/>
<use href="#md" x="1284" y="605"/>
<use href="#md" x="1299" y="613"/>
<use href="#md" x="1324" y="613"/>
<use href="#md" x="1333" y="612"/>
<use href="#md" x="1341" y="603"/>
<use href="#md" x="1362" y="609"/>
<use href="#md" x="1378" y="608"/>
<use href="#md" x="1396" y="606"/>
<use href="#md" x="1412" y="610"/>
<use href="#md" x="1429" y="608"/>
<use href="#md" x="1441" y="604"/>
<use href="#md" x="1466" y="606"/>
<use href="#md" x="1480" y="607"/>
<use href="#md" x="1286" y="615"/>
<use href="#md" x="1289" y="616"/>
<use href="#md" x="1312" y="623"/>
<use href="#md" x="1326" y="625"/>
<use href="#md" x="1334" y="622"/>
<use href="#md" x="1351" y="622"/>
<use href="#md" x="1375" y="622"/>
<use href="#md" x="1285" y="629"/>
<use href="#md" x="1302" y="631"/>
<use href="#md" x="1318" y="633"/>
<use href="#md" x="1332" y="628"/>
<use href="#md" x="1352" y="630"/>
<use href="#md" x="1361" y="632"/>
<use href="#md" x="1578" y="523"/>
<use href="#md" x="1625" y="550"/>
<use href="#md" x="754" y="338"/>
<use href="#md" x="730" y="349"/>
<use href="#md" x="754" y="343"/>
<use href="#md" x="763" y="344"/>
<use href="#md" x="780" y="345"/>
<use href="#md" x="793" y="341"/>
<use href="#md" x="809" y="350"/>
<use href="#md" x="830" y="344"/>
<use href="#md" x="723" y="359"/>
<use href="#md" x="739" y="361"/>
<use href="#md" x="751" y="363"/>
<use href="#md" x="769" y="354"/>
<use href="#md" x="792" y="356"/>
<use href="#md" x="799" y="358"/>
<use href="#md" x="826" y="354"/>
<use href="#md" x="832" y="358"/>
<use href="#md" x="720" y="370"/>
<use href="#md" x="738" y="374"/>
<use href="#md" x="749" y="374"/>
<use href="#md" x="759" y="375"/>
<use href="#md" x="774" y="368"/>
<use href="#md" x="789" y="369"/>
<use href="#md" x="814" y="374"/>
<use href="#md" x="829" y="376"/>
<use href="#md" x="722" y="388"/>
<use href="#md" x="742" y="381"/>
<use href="#md" x="756" y="384"/>
<use href="#md" x="770" y="383"/>
<use href="#md" x="781" y="385"/>
<use href="#md" x="798" y="391"/>
<use href="#md" x="818" y="390"/>
<use href="#md" x="836" y="383"/>
<use href="#md" x="718" y="395"/>
<use href="#md" x="733" y="401"/>
<use href="#md" x="755" y="396"/>
<use href="#md" x="770" y="402"/>
<use href="#md" x="779" y="396"/>
<use href="#md" x="798" y="401"/>
<use href="#md" x="806" y="399"/>
<use href="#md" x="827" y="400"/>
<use href="#md" x="842" y="397"/>
<use href="#md" x="738" y="413"/>
<use href="#md" x="763" y="412"/>
<use href="#md" x="776" y="406"/>
<use href="#md" x="787" y="411"/>
<use href="#md" x="807" y="414"/>
<use href="#md" x="814" y="416"/>
<use href="#md" x="841" y="406"/>
<use href="#md" x="1406" y="403"/>
<use href="#md" x="1389" y="396"/>
<use href="#md" x="1388" y="418"/>
<use href="#md" x="1397" y="382"/>
<use href="#md" x="1117" y="385"/>
<use href="#md" x="1150" y="395"/>
<use href="#md" x="1142" y="355"/>
<use href="#md" x="1117" y="371"/>
<use href="#md" x="1163" y="304"/>
<use href="#md" x="1181" y="322"/>
</g>
<g fill="none" stroke="#0000ff" stroke-width="3.5">
<use href="#ms" x="418" y="260"/>
<use href="#ms" x="431" y="263"/>
<use href="#ms" x="436" y="264"/>
<use href="#ms" x="440" y="263"/>
<use href="#ms" x="457" y="270"/>
<use href="#ms" x="494" y="290"/>
<use href="#ms" x="555" y="323"/>
<use href="#ms" x="589" y="273"/>
<use href="#ms" x="597" y="283"/>
<use href="#ms" x="593" y="330"/>
<use href="#ms" x="602" y="340"/>
<use href="#ms" x="753" y="179"/>
<use href="#ms" x="780" y="180"/>
<use href="#ms" x="771" y="186"/>
<use href="#ms" x="784" y="196"/>
<use href="#ms" x="797" y="185"/>
<use href="#ms" x="814" y="191"/>
<use href="#ms" x="780" y="201"/>
<use href="#ms" x="792" y="203"/>
<use href="#ms" x="817" y="202"/>
<use href="#ms" x="831" y="199"/>
<use href="#ms" x="846" y="209"/>
<use href="#ms" x="786" y="212"/>
<use href="#ms" x="808" y="220"/>
<use href="#ms" x="820" y="214"/>
<use href="#ms" x="834" y="215"/>
<use href="#ms" x="862" y="221"/>
<use href="#ms" x="819" y="224"/>
<use href="#ms" x="824" y="234"/>
<use href="#ms" x="849" y="234"/>
<use href="#ms" x="868" y="226"/>
<use href="#ms" x="806" y="243"/>
<use href="#ms" x="820" y="239"/>
<use href="#ms" x="843" y="239"/>
<use href="#ms" x="855" y="246"/>
<use href="#ms" x="867" y="245"/>
<use href="#ms" x="599" y="261"/>
<use href="#ms" x="643" y="254"/>
<use href="#ms" x="659" y="258"/>
<use href="#ms" x="679" y="260"/>
<use href="#ms" x="698" y="259"/>
<use href="#ms" x="723" y="261"/>
<use href="#ms" x="753" y="260"/>
<use href="#ms" x="788" y="259"/>
<use href="#ms" x="814" y="258"/>
<use href="#ms" x="826" y="254"/>
<use href="#ms" x="852" y="262"/>
<use href="#ms" x="864" y="256"/>
<use href="#ms" x="885" y="255"/>
<use href="#ms" x="582" y="268"/>
<use href="#ms" x="599" y="269"/>
<use href="#ms" x="630" y="270"/>
<use href="#ms" x="634" y="272"/>
<use href="#ms" x="654" y="270"/>
<use href="#ms" x="683" y="271"/>
<use href="#ms" x="689" y="268"/>
<use href="#ms" x="707" y="266"/>
<use href="#ms" x="725" y="268"/>
<use href="#ms" x="740" y="271"/>
<use href="#ms" x="772" y="273"/>
<use href="#ms" x="787" y="272"/>
<use href="#ms" x="803" y="267"/>
<use href="#ms" x="823" y="272"/>
<use href="#ms" x="834" y="271"/>
<use href="#ms" x="849" y="272"/>
<use href="#ms" x="877" y="273"/>
<use href="#ms" x="600" y="284"/>
<use href="#ms" x="613" y="280"/>
<use href="#ms" x="633" y="281"/>
<use href="#ms" x="650" y="285"/>
<use href="#ms" x="660" y="284"/>
<use href="#ms" x="689" y="286"/>
<use href="#ms" x="697" y="286"/>
<use href="#ms" x="726" y="283"/>
<use href="#ms" x="732" y="286"/>
<use href="#ms" x="753" y="285"/>
<use href="#ms" x="767" y="280"/>
<use href="#ms" x="800" y="277"/>
<use href="#ms" x="819" y="280"/>
<use href="#ms" x="830" y="279"/>
<use href="#ms" x="844" y="283"/>
<use href="#ms" x="870" y="285"/>
<use href="#ms" x="880" y="280"/>
<use href="#ms" x="594" y="299"/>
<use href="#ms" x="603" y="297"/>
<use href="#ms" x="619" y="296"/>
<use href="#ms" x="647" y="293"/>
<use href="#ms" x="653" y="293"/>
<use href="#ms" x="683" y="295"/>
<use href="#ms" x="696" y="300"/>
<use href="#ms" x="720" y="298"/>
<use href="#ms" x="723" y="292"/>
<use href="#ms" x="743" y="297"/>
<use href="#ms" x="773" y="297"/>
<use href="#ms" x="787" y="295"/>
<use href="#ms" x="795" y="299"/>
<use href="#ms" x="817" y="295"/>
<use href="#ms" x="837" y="296"/>
<use href="#ms" x="853" y="299"/>
<use href="#ms" x="877" y="290"/>
<use href="#ms" x="886" y="291"/>
<use href="#ms" x="592" y="307"/>
<use href="#ms" x="606" y="307"/>
<use href="#ms" x="633" y="310"/>
<use href="#ms" x="644" y="304"/>
<use href="#ms" x="673" y="314"/>
<use href="#ms" x="677" y="309"/>
<use href="#ms" x="700" y="304"/>
<use href="#ms" x="719" y="305"/>
<use href="#ms" x="746" y="304"/>
<use href="#ms" x="755" y="308"/>
<use href="#ms" x="775" y="312"/>
<use href="#ms" x="800" y="308"/>
<use href="#ms" x="818" y="309"/>
<use href="#ms" x="834" y="303"/>
<use href="#ms" x="840" y="313"/>
<use href="#ms" x="610" y="321"/>
<use href="#ms" x="629" y="317"/>
<use href="#ms" x="644" y="324"/>
<use href="#ms" x="665" y="325"/>
<use href="#ms" x="670" y="318"/>
<use href="#ms" x="688" y="322"/>
<use href="#ms" x="735" y="319"/>
<use href="#ms" x="754" y="318"/>
<use href="#ms" x="785" y="316"/>
<use href="#ms" x="806" y="320"/>
<use href="#ms" x="825" y="319"/>
<use href="#ms" x="839" y="317"/>
<use href="#ms" x="589" y="333"/>
<use href="#ms" x="608" y="329"/>
<use href="#ms" x="630" y="337"/>
<use href="#ms" x="655" y="333"/>
<use href="#ms" x="665" y="340"/>
<use href="#ms" x="611" y="349"/>
<use href="#ms" x="622" y="345"/>
<use href="#ms" x="645" y="353"/>
<use href="#ms" x="663" y="353"/>
<use href="#ms" x="636" y="355"/>
<use href="#ms" x="649" y="360"/>
<use href="#ms" x="671" y="362"/>
<use href="#ms" x="623" y="369"/>
<use href="#ms" x="715" y="341"/>
<use href="#ms" x="740" y="328"/>
<use href="#ms" x="761" y="334"/>
<use href="#ms" x="781" y="334"/>
<use href="#ms" x="804" y="336"/>
<use href="#ms" x="830" y="333"/>
<use href="#ms" x="706" y="357"/>
<use href="#ms" x="730" y="349"/>
<use href="#ms" x="762" y="355"/>
<use href="#ms" x="780" y="358"/>
<use href="#ms" x="793" y="352"/>
<use href="#ms" x="823" y="346"/>
<use href="#ms" x="836" y="346"/>
<use href="#ms" x="728" y="371"/>
<use href="#ms" x="738" y="363"/>
<use href="#ms" x="759" y="362"/>
<use href="#ms" x="792" y="370"/>
<use href="#ms" x="815" y="362"/>
<use href="#ms" x="829" y="362"/>
<use href="#ms" x="718" y="387"/>
<use href="#ms" x="729" y="379"/>
<use href="#ms" x="763" y="393"/>
<use href="#ms" x="784" y="384"/>
<use href="#ms" x="796" y="385"/>
<use href="#ms" x="828" y="391"/>
<use href="#ms" x="836" y="390"/>
<use href="#ms" x="706" y="402"/>
<use href="#ms" x="721" y="410"/>
<use href="#ms" x="734" y="398"/>
<use href="#ms" x="760" y="403"/>
<use href="#ms" x="782" y="400"/>
<use href="#ms" x="819" y="400"/>
<use href="#ms" x="834" y="399"/>
<use href="#ms" x="846" y="407"/>
<use href="#ms" x="746" y="421"/>
<use href="#ms" x="781" y="415"/>
<use href="#ms" x="744" y="174"/>
<use href="#ms" x="774" y="175"/>
<use href="#ms" x="750" y="181"/>
<use href="#ms" x="764" y="181"/>
<use href="#ms" x="772" y="179"/>
<use href="#ms" x="745" y="186"/>
<use href="#ms" x="753" y="190"/>
<use href="#ms" x="767" y="187"/>
<use href="#ms" x="784" y="189"/>
<use href="#ms" x="888" y="231"/>
<use href="#ms" x="932" y="256"/>
<use href="#ms" x="879" y="264"/>
<use href="#ms" x="895" y="273"/>
<use href="#ms" x="912" y="274"/>
<use href="#ms" x="957" y="275"/>
<use href="#ms" x="979" y="275"/>
<use href="#ms" x="1006" y="273"/>
<use href="#ms" x="1026" y="276"/>
<use href="#ms" x="886" y="285"/>
<use href="#ms" x="898" y="284"/>
<use href="#ms" x="927" y="282"/>
<use href="#ms" x="962" y="284"/>
<use href="#ms" x="971" y="282"/>
<use href="#ms" x="990" y="293"/>
<use href="#ms" x="1030" y="282"/>
<use href="#ms" x="1053" y="294"/>
<use href="#ms" x="1059" y="288"/>
<use href="#ms" x="1027" y="240"/>
<use href="#ms" x="988" y="274"/>
<use href="#ms" x="1015" y="273"/>
<use href="#ms" x="1055" y="273"/>
<use href="#ms" x="1086" y="247"/>
<use href="#ms" x="1112" y="241"/>
<use href="#ms" x="1086" y="258"/>
<use href="#ms" x="1090" y="261"/>
<use href="#ms" x="1113" y="255"/>
<use href="#ms" x="1083" y="278"/>
<use href="#ms" x="1115" y="274"/>
<use href="#ms" x="1129" y="279"/>
<use href="#ms" x="1081" y="294"/>
<use href="#ms" x="1097" y="282"/>
<use href="#ms" x="1121" y="282"/>
<use href="#ms" x="1135" y="289"/>
<use href="#ms" x="1146" y="281"/>
<use href="#ms" x="1094" y="303"/>
<use href="#ms" x="1111" y="298"/>
<use href="#ms" x="1131" y="305"/>
<use href="#ms" x="1139" y="297"/>
<use href="#ms" x="1106" y="314"/>
<use href="#ms" x="1121" y="315"/>
<use href="#ms" x="1127" y="324"/>
<use href="#ms" x="1095" y="332"/>
<use href="#ms" x="1102" y="337"/>
<use href="#ms" x="1124" y="340"/>
<use href="#ms" x="1092" y="350"/>
<use href="#ms" x="1118" y="351"/>
<use href="#ms" x="1132" y="352"/>
<use href="#ms" x="1144" y="343"/>
<use href="#ms" x="1089" y="358"/>
<use href="#ms" x="1107" y="368"/>
<use href="#ms" x="1121" y="368"/>
<use href="#ms" x="1100" y="378"/>
<use href="#ms" x="1113" y="379"/>
<use href="#ms" x="1142" y="377"/>
<use href="#ms" x="1097" y="395"/>
<use href="#ms" x="1112" y="389"/>
<use href="#ms" x="1131" y="391"/>
<use href="#ms" x="1094" y="402"/>
<use href="#ms" x="1124" y="408"/>
<use href="#ms" x="1141" y="412"/>
<use href="#ms" x="1092" y="426"/>
<use href="#ms" x="1113" y="423"/>
<use href="#ms" x="1129" y="426"/>
<use href="#ms" x="1103" y="434"/>
<use href="#ms" x="1111" y="444"/>
<use href="#ms" x="1131" y="444"/>
<use href="#ms" x="1108" y="452"/>
<use href="#ms" x="1142" y="447"/>
<use href="#ms" x="1055" y="447"/>
<use href="#ms" x="1152" y="132"/>
<use href="#ms" x="1159" y="131"/>
<use href="#ms" x="1171" y="135"/>
<use href="#ms" x="1182" y="132"/>
<use href="#ms" x="1185" y="137"/>
<use href="#ms" x="1155" y="144"/>
<use href="#ms" x="1165" y="138"/>
<use href="#ms" x="1177" y="144"/>
<use href="#ms" x="1184" y="140"/>
<use href="#ms" x="1189" y="139"/>
<use href="#ms" x="1147" y="147"/>
<use href="#ms" x="1159" y="148"/>
<use href="#ms" x="1168" y="149"/>
<use href="#ms" x="1177" y="150"/>
<use href="#ms" x="1189" y="149"/>
<use href="#ms" x="1193" y="149"/>
<use href="#ms" x="1149" y="153"/>
<use href="#ms" x="1155" y="153"/>
<use href="#ms" x="1163" y="156"/>
<use href="#ms" x="1175" y="157"/>
<use href="#ms" x="1180" y="157"/>
<use href="#ms" x="1193" y="157"/>
<use href="#ms" x="1149" y="163"/>
<use href="#ms" x="1162" y="159"/>
<use href="#ms" x="1166" y="164"/>
<use href="#ms" x="1178" y="162"/>
<use href="#ms" x="1185" y="163"/>
<use href="#ms" x="1158" y="172"/>
<use href="#ms" x="1164" y="172"/>
<use href="#ms" x="1175" y="170"/>
<use href="#ms" x="1185" y="170"/>
<use href="#ms" x="1191" y="167"/>
<use href="#ms" x="1117" y="144"/>
<use href="#ms" x="1140" y="152"/>
<use href="#ms" x="1218" y="150"/>
<use href="#ms" x="1230" y="211"/>
<use href="#ms" x="1282" y="185"/>
<use href="#ms" x="1305" y="254"/>
<use href="#ms" x="1341" y="272"/>
<use href="#ms" x="1330" y="280"/>
<use href="#ms" x="1365" y="178"/>
<use href="#ms" x="1386" y="243"/>
<use href="#ms" x="1423" y="240"/>
<use href="#ms" x="1342" y="272"/>
<use href="#ms" x="1368" y="292"/>
<use href="#ms" x="1491" y="283"/>
<use href="#ms" x="1502" y="306"/>
<use href="#ms" x="1570" y="329"/>
<use href="#ms" x="1166" y="275"/>
<use href="#ms" x="1370" y="189"/>
<use href="#ms" x="1391" y="192"/>
<use href="#ms" x="1372" y="200"/>
<use href="#ms" x="1376" y="199"/>
<use href="#ms" x="1387" y="195"/>
<use href="#ms" x="1367" y="205"/>
<use href="#ms" x="1377" y="207"/>
<use href="#ms" x="1383" y="208"/>
<use href="#ms" x="1399" y="205"/>
<use href="#ms" x="1373" y="214"/>
<use href="#ms" x="1381" y="215"/>
<use href="#ms" x="1397" y="219"/>
<use href="#ms" x="1404" y="220"/>
<use href="#ms" x="1404" y="328"/>
<use href="#ms" x="1430" y="330"/>
<use href="#ms" x="1461" y="369"/>
<use href="#ms" x="1491" y="370"/>
<use href="#ms" x="1386" y="373"/>
<use href="#ms" x="1417" y="372"/>
<use href="#ms" x="1446" y="372"/>
<use href="#ms" x="1467" y="372"/>
<use href="#ms" x="1388" y="387"/>
<use href="#ms" x="1413" y="387"/>
<use href="#ms" x="1428" y="387"/>
<use href="#ms" x="1445" y="382"/>
<use href="#ms" x="1457" y="388"/>
<use href="#ms" x="1477" y="380"/>
<use href="#ms" x="1491" y="380"/>
<use href="#ms" x="1516" y="388"/>
<use href="#ms" x="1527" y="386"/>
<use href="#ms" x="1404" y="394"/>
<use href="#ms" x="1413" y="398"/>
<use href="#ms" x="1435" y="401"/>
<use href="#ms" x="1454" y="396"/>
<use href="#ms" x="1474" y="398"/>
<use href="#ms" x="1482" y="394"/>
<use href="#ms" x="1507" y="394"/>
<use href="#ms" x="1528" y="397"/>
<use href="#ms" x="1550" y="395"/>
<use href="#ms" x="1555" y="399"/>
<use href="#ms" x="1389" y="419"/>
<use href="#ms" x="1413" y="414"/>
<use href="#ms" x="1426" y="417"/>
<use href="#ms" x="1439" y="415"/>
<use href="#ms" x="1468" y="415"/>
<use href="#ms" x="1486" y="415"/>
<use href="#ms" x="1501" y="421"/>
<use href="#ms" x="1508" y="416"/>
<use href="#ms" x="1528" y="419"/>
<use href="#ms" x="1546" y="412"/>
<use href="#ms" x="1403" y="433"/>
<use href="#ms" x="1425" y="425"/>
<use href="#ms" x="1438" y="435"/>
<use href="#ms" x="1454" y="424"/>
<use href="#ms" x="1468" y="430"/>
<use href="#ms" x="1492" y="425"/>
<use href="#ms" x="1500" y="423"/>
<use href="#ms" x="1532" y="426"/>
<use href="#ms" x="1538" y="424"/>
<use href="#ms" x="1181" y="420"/>
<use href="#ms" x="1224" y="422"/>
<use href="#ms" x="1254" y="434"/>
<use href="#ms" x="1295" y="431"/>
<use href="#ms" x="1313" y="428"/>
<use href="#ms" x="1336" y="434"/>
</g>
<line x1="573.5" y1="1224.5" x2="573.5" y2="561.4" stroke="#000" stroke-width="6.2" />
<polygon points="573.5,539.4 558.5,563.4 588.5,563.4" fill="#000"/>
<line x1="844.7" y1="1309.5" x2="844.7" y2="646.5" stroke="#000" stroke-width="6.2" />
<polygon points="844.7,624.5 829.7,648.5 859.7,648.5" fill="#000"/>
<path d="M966.2 1125V463.2" stroke="#000" stroke-width="6.4" stroke-dasharray="24.5 18.8" fill="none"/>
<polygon points="966.2,435.2 951.2,459.2 981.2,459.2" fill="#000"/>
<line x1="1125" y1="1348.4" x2="1125" y2="677.7" stroke="#000" stroke-width="6.2" />
<polygon points="1125,655.7 1110,679.7 1140,679.7" fill="#000"/>
<path d="M1268.3 1100.3V439.3" stroke="#000" stroke-width="6.4" stroke-dasharray="24.5 18.8" fill="none"/>
<polygon points="1268.3,411.3 1253.3,435.3 1283.3,435.3" fill="#000"/>
<path d="M1419.3 1266V605" stroke="#000" stroke-width="6.4" stroke-dasharray="24.5 18.8" fill="none"/>
<polygon points="1419.3,577 1404.3,601 1434.3,601" fill="#000"/>
<line x1="1690.9" y1="1288" x2="1690.9" y2="682" stroke="#000" stroke-width="6.2" />
<polygon points="1690.9,660 1675.9,684 1705.9,684" fill="#000"/>
<rect x="467.2" y="410.6" width="208.9" height="126.4" fill="#fff" stroke="#000" stroke-width="4.8"/>
<rect x="739.1" y="498" width="208.5" height="124.1" fill="#fff" stroke="#000" stroke-width="4.8"/>
<rect x="1018" y="528.2" width="210.8" height="125.1" fill="#fff" stroke="#000" stroke-width="4.8"/>
<rect x="1585.4" y="534.7" width="210.7" height="122.9" fill="#fff" stroke="#000" stroke-width="4.8"/>
<rect x="861.7" y="308.6" width="210.2" height="124.3" fill="#fff" stroke="none"/>
<path d="M861.7 308.6H1071.9M861.7 432.9H1071.9" stroke="#000" stroke-width="4.6" fill="none" stroke-dasharray="20.7 15" stroke-dashoffset="8.5"/>
<path d="M861.7 308.6V432.9M1071.9 308.6V432.9" stroke="#000" stroke-width="4.6" fill="none" stroke-dasharray="16.3 13" stroke-dashoffset="6"/>
<rect x="1160.7" y="284.3" width="211.3" height="124.7" fill="#fff" stroke="none"/>
<path d="M1160.7 284.3H1372M1160.7 409H1372" stroke="#000" stroke-width="4.6" fill="none" stroke-dasharray="20.7 15" stroke-dashoffset="8.5"/>
<path d="M1160.7 284.3V409M1372 284.3V409" stroke="#000" stroke-width="4.6" fill="none" stroke-dasharray="16.3 13" stroke-dashoffset="6"/>
<rect x="1281.9" y="446.7" width="274.8" height="128" fill="#fff" stroke="none"/>
<path d="M1281.9 446.7H1556.7M1281.9 574.7H1556.7" stroke="#000" stroke-width="4.6" fill="none" stroke-dasharray="20.7 15" stroke-dashoffset="8.5"/>
<path d="M1281.9 446.7V574.7M1556.7 446.7V574.7" stroke="#000" stroke-width="4.6" fill="none" stroke-dasharray="16.3 13" stroke-dashoffset="6"/>
<text transform="translate(509.7 501.8) scale(1.2524 1)" font-family='"Liberation Serif", "Times New Roman", serif' font-size="82.15" fill="#000" stroke="#fff" stroke-width="1.2">M</text>
<text transform="translate(601.6 518.7) scale(0.9441 1)" font-family='"Liberation Serif", "Times New Roman", serif' font-size="55.08" fill="#000" stroke="#fff" stroke-width="1.0">1</text>
<text transform="translate(782 588.5) scale(1.2076 1)" font-family='"Liberation Serif", "Times New Roman", serif' font-size="82.31" fill="#000" stroke="#fff" stroke-width="1.2">M</text>
<text transform="translate(869.2 604.7) scale(1.3112 1)" font-family='"Liberation Serif", "Times New Roman", serif' font-size="53.38" fill="#000" stroke="#fff" stroke-width="1.0">2</text>
<text transform="translate(904 399) scale(1.2590 1)" font-family='"Liberation Serif", "Times New Roman", serif' font-size="80.00" fill="#000" stroke="#fff" stroke-width="1.2">M</text>
<text transform="translate(993.6 416.6) scale(1.1163 1)" font-family='"Liberation Serif", "Times New Roman", serif' font-size="50.91" fill="#000" stroke="#fff" stroke-width="1.0">3</text>
<text transform="translate(1062.3 619) scale(1.2366 1)" font-family='"Liberation Serif", "Times New Roman", serif' font-size="80.77" fill="#000" stroke="#fff" stroke-width="1.2">M</text>
<text transform="translate(1149.5 635.6) scale(1.0694 1)" font-family='"Liberation Serif", "Times New Roman", serif' font-size="56.31" fill="#000" stroke="#fff" stroke-width="1.0">4</text>
<text transform="translate(1335.6 539.6) scale(1.2279 1)" font-family='"Liberation Serif", "Times New Roman", serif' font-size="81.54" fill="#000" stroke="#fff" stroke-width="1.2">M</text>
<text transform="translate(1422.8 555.2) scale(1.1208 1)" font-family='"Liberation Serif", "Times New Roman", serif' font-size="52.46" fill="#000" stroke="#fff" stroke-width="1.0">k-1</text>
<text transform="translate(1629.4 622.6) scale(1.2588 1)" font-family='"Liberation Serif", "Times New Roman", serif' font-size="79.54" fill="#000" stroke="#fff" stroke-width="1.2">M</text>
<text transform="translate(1715.3 639.5) scale(1.2458 1)" font-family='"Liberation Serif", "Times New Roman", serif' font-size="54.35" fill="#000" stroke="#fff" stroke-width="1.0">k</text>
<ellipse cx="1234" cy="371.9" rx="5.4" ry="4.4" fill="#000"/>
<ellipse cx="1266.6" cy="371.9" rx="5.4" ry="4.4" fill="#000"/>
<ellipse cx="1298.7" cy="371.9" rx="5.4" ry="4.4" fill="#000"/>
<text transform="translate(253 219.6) scale(1.3754 1)" font-family='"Liberation Sans", Arial, sans-serif' font-size="59.43" fill="#262626" >6</text>
<text transform="translate(254.9 405.7) scale(1.2921 1)" font-family='"Liberation Sans", Arial, sans-serif' font-size="60.43" fill="#262626" >5</text>
<text transform="translate(255.2 592) scale(1.2176 1)" font-family='"Liberation Sans", Arial, sans-serif' font-size="59.42" fill="#262626" >4</text>
<text transform="translate(254.9 777.7) scale(1.3058 1)" font-family='"Liberation Sans", Arial, sans-serif' font-size="60.29" fill="#262626" >3</text>
<text transform="translate(252.4 964) scale(1.3955 1)" font-family='"Liberation Sans", Arial, sans-serif' font-size="60.29" fill="#262626" >2</text>
<text transform="translate(257.9 1149.8) scale(0.8502 1)" font-family='"Liberation Sans", Arial, sans-serif' font-size="60.72" fill="#262626" >1</text>
<text transform="translate(204.2 1226.1) scale(1.2814 1)" font-family='"Liberation Sans", Arial, sans-serif' font-size="59.86" fill="#262626" >10</text>
<text transform="translate(530.9 1387.5) scale(1.2933 1)" font-family='"Liberation Sans", Arial, sans-serif' font-size="60.87" fill="#262626" >5</text>
<text transform="translate(814.9 1547) scale(1.3835 1)" font-family='"Liberation Sans", Arial, sans-serif' font-size="55.71" fill="#262626" >0</text>
<text transform="translate(972.9 1561) scale(1.3835 1)" font-family='"Liberation Sans", Arial, sans-serif' font-size="55.71" fill="#262626" >0</text>
<text transform="translate(1427.1 1463) scale(1.3302 1)" font-family='"Liberation Sans", Arial, sans-serif' font-size="59.14" fill="#262626" >200</text>
<text transform="translate(1883.3 1363.4) scale(1.2587 1)" font-family='"Liberation Sans", Arial, sans-serif' font-size="61.29" fill="#262626" >400</text>
<text transform="translate(68.8 1412) scale(1.3929 1)" font-family='"Liberation Sans", Arial, sans-serif' font-size="63.64" fill="#262626" stroke="#fff" stroke-width="1.2">×</text>
<text transform="translate(127.4 1405) scale(1.2159 1)" font-family='"Liberation Sans", Arial, sans-serif' font-size="57.57" fill="#262626" >10</text>
<text transform="translate(212.4 1377) scale(1.2192 1)" font-family='"Liberation Sans", Arial, sans-serif' font-size="47.57" fill="#262626" >10</text>
<text transform="translate(17.6 1555.6) scale(1.3312 1)" font-family='"Liberation Sans", Arial, sans-serif' font-size="63.33" fill="#262626" >characteristics</text>
<text transform="translate(1378.9 1547.3) scale(1.2550 1)" font-family='"Liberation Sans", Arial, sans-serif' font-size="65.97" fill="#000" >time/s</text>
<text transform="translate(195.9 1009.4) scale(1.3113 1) rotate(-90)" font-family='"Liberation Sans", Arial, sans-serif' font-size="63.45" fill="#262626">label of characteristics</text>
<rect x="1570" y="219.5" width="698.5" height="278.5" fill="#fff" stroke="#6e6e6e" stroke-width="2.4"/>
<text transform="translate(1753.8 268) scale(1.1970 1)" font-family='"Liberation Sans", Arial, sans-serif' font-size="40.28" fill="#000" stroke="#000" stroke-width="0.6">max characteristcs</text>
<text transform="translate(1753.8 321.8) scale(1.1965 1)" font-family='"Liberation Sans", Arial, sans-serif' font-size="40.42" fill="#000" stroke="#000" stroke-width="0.6">min characteristics</text>
<text transform="translate(1753.8 374.5) scale(1.2321 1)" font-family='"Liberation Sans", Arial, sans-serif' font-size="39.17" fill="#000" stroke="#000" stroke-width="0.6">mean characteristics</text>
<text transform="translate(1753.8 429) scale(1.2325 1)" font-family='"Liberation Sans", Arial, sans-serif' font-size="39.17" fill="#000" stroke="#000" stroke-width="0.6">rms characteristics</text>
<text transform="translate(1755.3 481.7) scale(1.2264 1)" font-family='"Liberation Sans", Arial, sans-serif' font-size="39.03" fill="#000" stroke="#000" stroke-width="0.6">geomean charcteristics</text>
<ellipse cx="1665.5" cy="251" rx="15.6" ry="11.8" fill="none" stroke="#ff3333" stroke-width="2.4"/>
<polygon points="1645.5,305 1677,291.5 1677,318.5" fill="none" stroke="#ffff00" stroke-width="2.4"/>
<polygon points="1686.5,358 1654.5,344.5 1654.5,371.5" fill="none" stroke="#ff33ff" stroke-width="2.4"/>
<polygon points="1665.5,395.5 1681,412 1665.5,428.5 1650,412" fill="none" stroke="#00ffff" stroke-width="2.4"/>
<rect x="1652" y="455.5" width="26.5" height="21" fill="none" stroke="#4444ff" stroke-width="2.4"/>
</svg>
</body></html>
